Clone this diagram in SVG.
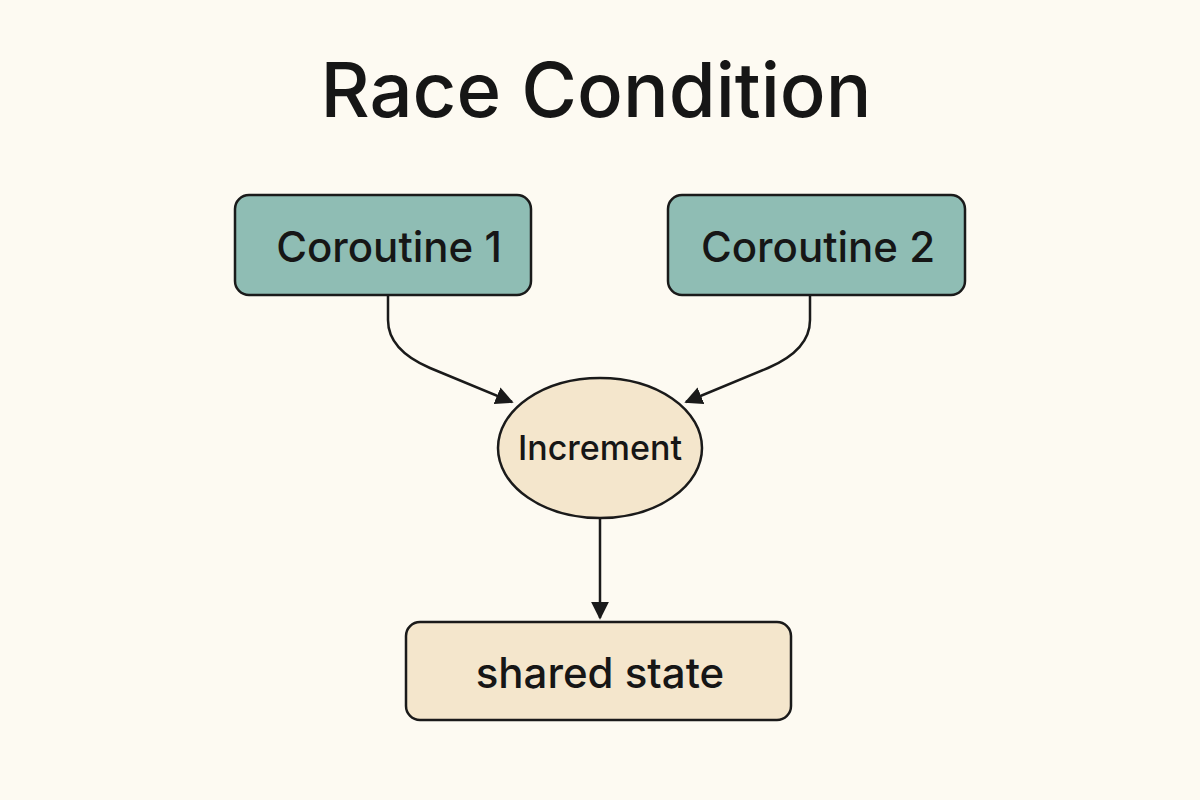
<svg xmlns="http://www.w3.org/2000/svg" width="1200" height="800" viewBox="0 0 1200 800">
<style>
.t{font-family:"Inter","Liberation Sans",sans-serif;font-weight:500;fill:#161616;text-anchor:middle}
.c{fill:#8fbdb4;stroke:#1a1a1a;stroke-width:2.5}
.s{fill:#f4e6cc;stroke:#1a1a1a;stroke-width:2.5}
.e{fill:none;stroke:#1a1a1a;stroke-width:2.5}
</style>
<defs>
<marker id="ah" viewBox="0 0 10 10" refX="9" refY="5" markerWidth="18" markerHeight="18" orient="auto" markerUnits="userSpaceOnUse"><path d="M0,0 L10,5 L0,10 z" fill="#1a1a1a"/></marker></defs>
<rect width="1200" height="800" fill="#fdfaf2"/>
<text class="t" x="596" y="117" font-size="76">Race Condition</text>
<g id="connectors">
<path class="e" d="M388,296 V320 Q388,350 430,368 L512,402" marker-end="url(#ah)"/>
<path class="e" d="M810,296 V320 Q810,350 768,368 L686,402" marker-end="url(#ah)"/>
<path class="e" d="M600,518 V618" marker-end="url(#ah)"/>
</g>
<g id="coroutine1"><rect class="c" x="235" y="195" width="296" height="100" rx="14"/><text class="t" x="389" y="262" font-size="42">Coroutine 1</text></g>
<g id="coroutine2"><rect class="c" x="668" y="195" width="297" height="100" rx="14"/><text class="t" x="818" y="262" font-size="42">Coroutine 2</text></g>
<g id="increment"><ellipse class="s" cx="600" cy="448" rx="102" ry="70"/><text class="t" x="600" y="460" font-size="34">Increment</text></g>
<g id="shared"><rect class="s" x="406" y="622" width="385" height="98" rx="14"/><text class="t" x="600" y="688" font-size="42">shared state</text></g>
</svg>
